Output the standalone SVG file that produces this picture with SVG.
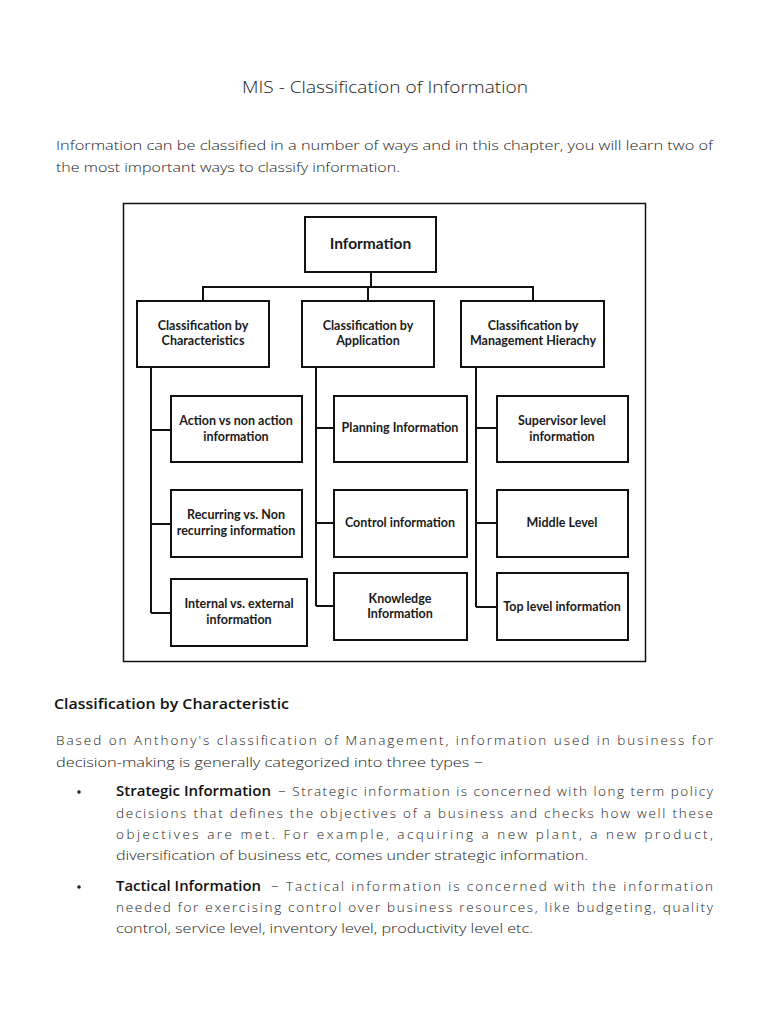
<svg xmlns="http://www.w3.org/2000/svg" width="768" height="1024" viewBox="0 0 768 1024">
<style>
.body{font-family:"Open Sans","Liberation Sans",sans-serif;font-weight:300;fill:#222;font-size:13.5px}
.bold{font-family:"Open Sans","Liberation Sans",sans-serif;font-weight:600;fill:#111;font-size:13.5px}
.box{fill:#fff;stroke:#111;stroke-width:2}
.lbl{font-family:Lato,"Liberation Sans",sans-serif;font-weight:700;font-size:12.5px;fill:#1a1a1a;text-anchor:middle}
.con{stroke:#111;stroke-width:2;fill:none}
</style>
<rect width="768" height="1024" fill="#fff"/>
<text x="385" y="93" text-anchor="middle" class="body" style="font-size:17px" textLength="286" lengthAdjust="spacingAndGlyphs">MIS - Classification of Information</text>
<text x="56" y="150" class="body" textLength="657" lengthAdjust="spacingAndGlyphs">Information can be classified in a number of ways and in this chapter, you will learn two of</text>
<text x="56" y="172" class="body" textLength="344" lengthAdjust="spacingAndGlyphs">the most important ways to classify information.</text>

<rect x="123.5" y="203.5" width="522" height="458" fill="#fff" stroke="#111" stroke-width="1.5"/>

<g id="connectors">
<path class="con" d="M371 272V287M203 301V287H533V301M368 287V301"/>
<path class="con" d="M151 367V613M151 430H171M151 524H171M151 613H171"/>
<path class="con" d="M316 367V606M316 428H334M316 523H334M316 606H334"/>
<path class="con" d="M476 367V607M476 428H497M476 523H497M476 607H497"/>
</g>

<g id="n-information"><rect class="box" x="305" y="217" width="131" height="55"/><text class="lbl" x="370.5" y="249" style="font-size:15.5px">Information</text></g>
<g id="n-characteristics"><rect class="box" x="137" y="301" width="132" height="66"/><text class="lbl" x="203" y="330">Classification  by</text><text class="lbl" x="203" y="345">Characteristics</text></g>
<g id="n-application"><rect class="box" x="302" y="301" width="132" height="66"/><text class="lbl" x="368" y="330">Classification  by</text><text class="lbl" x="368" y="345">Application</text></g>
<g id="n-management"><rect class="box" x="461" y="301" width="143" height="66"/><text class="lbl" x="533" y="330">Classification  by</text><text class="lbl" x="533" y="345">Management Hierachy</text></g>

<g id="n-action"><rect class="box" x="171" y="396" width="131" height="66"/><text class="lbl" x="236" y="425">Action vs non action</text><text class="lbl" x="236" y="441">information</text></g>
<g id="n-recurring"><rect class="box" x="171" y="490" width="131" height="67"/><text class="lbl" x="236" y="519">Recurring vs. Non</text><text class="lbl" x="236" y="535">recurring  information</text></g>
<g id="n-internal"><rect class="box" x="171" y="579" width="136" height="67"/><text class="lbl" x="239" y="608">Internal vs. external</text><text class="lbl" x="239" y="624">information</text></g>

<g id="n-planning"><rect class="box" x="334" y="396" width="133" height="66"/><text class="lbl" x="400" y="432">Planning  Information</text></g>
<g id="n-control"><rect class="box" x="334" y="490" width="133" height="67"/><text class="lbl" x="400" y="527">Control information</text></g>
<g id="n-knowledge"><rect class="box" x="334" y="573" width="133" height="67"/><text class="lbl" x="400" y="603">Knowledge</text><text class="lbl" x="400" y="618">Information</text></g>

<g id="n-supervisor"><rect class="box" x="497" y="396" width="131" height="66"/><text class="lbl" x="562" y="425">Supervisor level</text><text class="lbl" x="562" y="441">information</text></g>
<g id="n-middle"><rect class="box" x="497" y="490" width="131" height="67"/><text class="lbl" x="562" y="527">Middle Level</text></g>
<g id="n-top"><rect class="box" x="497" y="573" width="131" height="67"/><text class="lbl" x="562" y="611">Top level information</text></g>

<text x="54" y="709" class="bold" style="font-size:15px" textLength="235" lengthAdjust="spacingAndGlyphs">Classification by Characteristic</text>
<text x="56" y="745" class="body" textLength="657" lengthAdjust="spacing">Based on Anthony's classification of Management, information used in business for</text>
<text x="56" y="767" class="body" textLength="427" lengthAdjust="spacingAndGlyphs">decision-making is generally categorized into three types −</text>

<circle cx="79" cy="792" r="1.8" fill="#222"/>
<text x="116" y="796" class="bold" textLength="155" lengthAdjust="spacingAndGlyphs">Strategic Information</text>
<text x="278" y="796" class="body" textLength="435" lengthAdjust="spacing">− Strategic information is concerned with long term policy</text>
<text x="116" y="818" class="body" textLength="597" lengthAdjust="spacing">decisions that defines the objectives of a business and checks how well these</text>
<text x="116" y="839" class="body" textLength="597" lengthAdjust="spacing">objectives are met. For example, acquiring a new plant, a new product,</text>
<text x="116" y="860" class="body" textLength="472" lengthAdjust="spacingAndGlyphs">diversification of business etc, comes under strategic information.</text>

<circle cx="79" cy="887" r="1.8" fill="#222"/>
<text x="116" y="891" class="bold" textLength="145" lengthAdjust="spacingAndGlyphs">Tactical Information</text>
<text x="271" y="891" class="body" textLength="442" lengthAdjust="spacing">− Tactical information is concerned with the information</text>
<text x="116" y="912" class="body" textLength="597" lengthAdjust="spacing">needed for exercising control over business resources, like budgeting, quality</text>
<text x="116" y="933" class="body" textLength="417" lengthAdjust="spacingAndGlyphs">control, service level, inventory level, productivity level etc.</text>
</svg>
